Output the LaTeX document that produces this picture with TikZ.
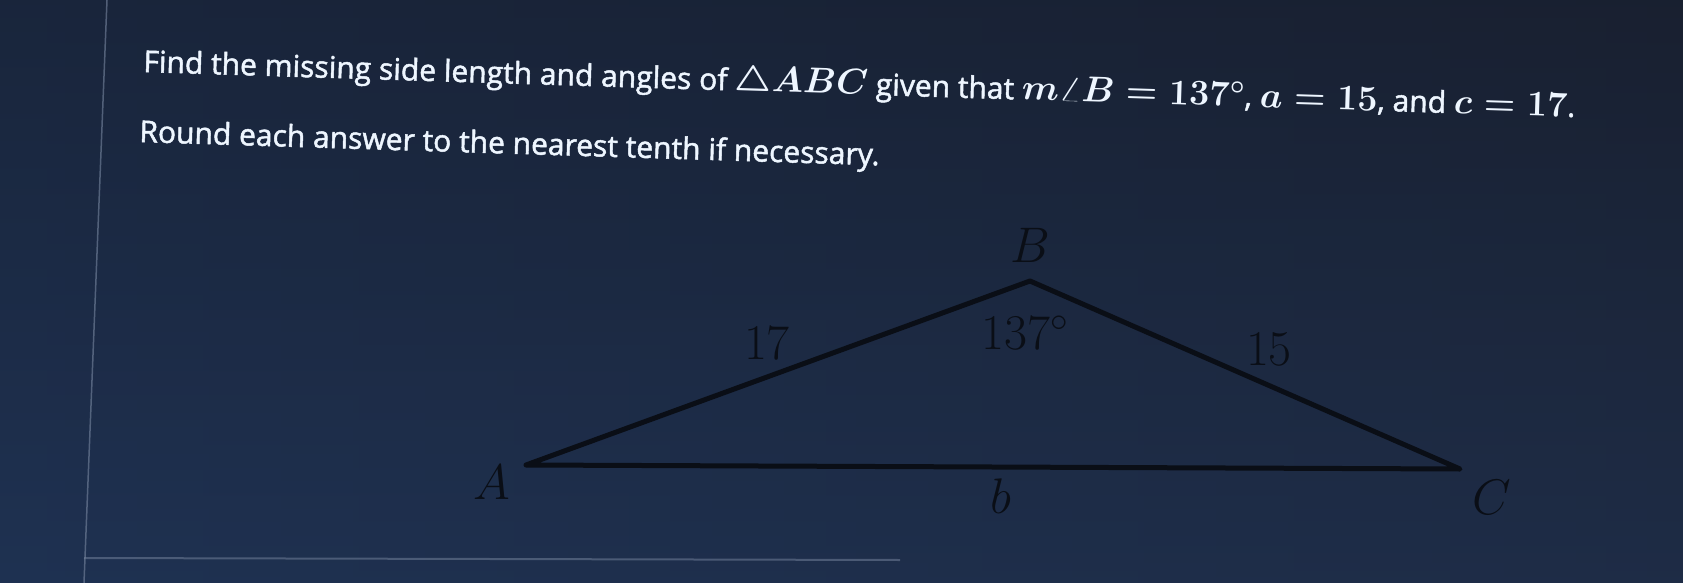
\RequirePackage{fix-cm}
\documentclass[tikz,border=0pt]{standalone}
\usepackage{fontspec}
\setmainfont{Open Sans}[FakeBold=1.6]
\usepackage{tikz}
\usetikzlibrary{positioning}
\definecolor{screen}{RGB}{32,52,86}
\definecolor{screendark}{RGB}{28,36,54}
\definecolor{glow}{RGB}{238,246,255}
\definecolor{ink}{RGB}{10,14,22}
\definecolor{frame}{RGB}{120,135,160}
\newcommand{\qm}[1]{{\fontsize{36}{36}\selectfont\boldmath$#1$}}

\begin{document}
\begin{tikzpicture}[
  x=1pt, y=-1pt,
  prompt/.style={text=glow, font=\fontsize{30}{36}\selectfont, inner sep=0pt,
    anchor=base west, rotate=-1.8},
  vlabel/.style={text=ink, font=\fontsize{50}{56}\selectfont, inner sep=0pt},
  side/.style={line width=5pt, draw=ink, line join=round}
]
% screen
\useasboundingbox (0,0) rectangle (1683,583);
\shade[left color=screen!90!black, right color=screendark] (0,0) rectangle (1683,583);
\shade[top color=screendark!80!black, bottom color=screen, opacity=0.5] (0,0) rectangle (1683,583);
\draw[frame, line width=1.5pt, opacity=0.6] (107,0) -- (84,583);
\draw[frame, line width=2pt, opacity=0.5] (84,558) -- (900,560);

% question
\node[prompt] (q1) at (143,72) {Find the missing side length and angles of \qm{\triangle ABC} given that \qm{m\angle B=137^\circ}, \qm{a=15}, and \qm{c=17}.};
\node[prompt] (q2) at (139,142) {Round each answer to the nearest tenth if necessary.};

% triangle
\coordinate (A) at (526,465);
\coordinate (B) at (1030,281);
\coordinate (C) at (1460,469);
\draw[side] (A) -- (B) -- (C) -- cycle;

\node[vlabel] (lA) at (492,482) {$A$};
\node[vlabel] (lB) at (1030,245) {$B$};
\node[vlabel] (lC) at (1492,497) {$C$};
\node[vlabel] (lb) at (1001,496) {$b$};
\node[vlabel] (lc) at (767,343) {$17$};
\node[vlabel] (la) at (1269,349) {$15$};
\node[vlabel] (lang) at (1025,333) {$137^\circ$};
\end{tikzpicture}
\end{document}
